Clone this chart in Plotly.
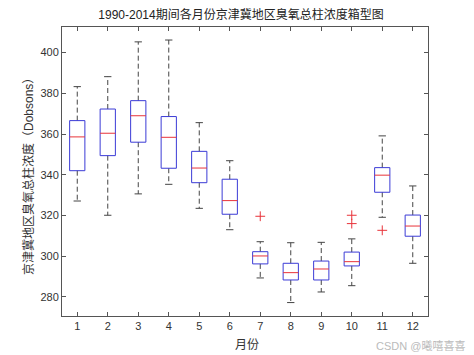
import plotly.graph_objects as go

months = [1, 2, 3, 4, 5, 6, 7, 8, 9, 10, 11, 12]
lower_whisker = [327.1, 320.1, 330.6, 335.3, 323.5, 313.0, 289.3, 277.2, 282.4, 285.5, 319.1, 296.5]
q1 = [342.0, 349.4, 356.0, 343.2, 336.1, 320.6, 296.2, 288.3, 288.3, 295.2, 331.4, 309.8]
median = [358.6, 360.4, 369.0, 358.4, 343.3, 327.3, 300.1, 291.9, 293.7, 297.3, 339.8, 314.8]
q3 = [366.6, 372.3, 376.4, 368.6, 351.5, 337.8, 302.2, 296.5, 297.6, 302.0, 343.5, 320.2]
upper_whisker = [383.3, 388.2, 405.3, 406.2, 365.6, 346.9, 307.1, 306.6, 306.8, 308.5, 359.1, 334.5]
outlier_month = [7, 10, 10, 11]
outlier_value = [319.6, 320.1, 316.0, 312.7]

title_text = "1990-2014期间各月份京津冀地区臭氧总柱浓度箱型图"
xlabel = "月份"
ylabel = "京津冀地区臭氧总柱浓度（Dobsons）"
y_ticks = [280, 300, 320, 340, 360, 380, 400]

BOX_HW = 0.25
CAP_HW = 0.12
BLUE = "#3b3bd6"
RED = "#e8333a"
DARK = "#333333"

box_x, box_y = [], []
med_x, med_y = [], []
wh_x, wh_y = [], []
cap_x, cap_y = [], []
for m, lw, a, md, b, uw in zip(months, lower_whisker, q1, median, q3, upper_whisker):
    box_x += [m - BOX_HW, m + BOX_HW, m + BOX_HW, m - BOX_HW, m - BOX_HW, None]
    box_y += [a, a, b, b, a, None]
    med_x += [m - BOX_HW, m + BOX_HW, None]
    med_y += [md, md, None]
    wh_x += [m, m, None, m, m, None]
    wh_y += [b, uw, None, a, lw, None]
    cap_x += [m - CAP_HW, m + CAP_HW, None, m - CAP_HW, m + CAP_HW, None]
    cap_y += [uw, uw, None, lw, lw, None]

fig = go.Figure()
fig.add_trace(go.Scatter(x=wh_x, y=wh_y, mode="lines",
                         line=dict(color="#444444", width=1, dash="5px,3px"), hoverinfo="skip"))
fig.add_trace(go.Scatter(x=cap_x, y=cap_y, mode="lines",
                         line=dict(color="#444444", width=1), hoverinfo="skip"))
fig.add_trace(go.Scatter(x=box_x, y=box_y, mode="lines",
                         line=dict(color=BLUE, width=1), hoverinfo="skip"))
fig.add_trace(go.Scatter(x=med_x, y=med_y, mode="lines",
                         line=dict(color=RED, width=1), hoverinfo="skip"))
fig.add_trace(go.Scatter(x=outlier_month, y=outlier_value, mode="markers",
                         marker=dict(symbol="cross-thin-open", size=7,
                                     line=dict(color=RED, width=1), color=RED)))

# page body has an 8px margin, so the figure is 8px smaller and margins shifted
W, H = 466, 347
L, R, T, B = 54, 46, 19, 39
PW, PH = W - L - R, H - T - B
OFF = 8

def px(xpage):
    return (xpage - OFF - L) / PW

def py(ypage):
    return (H - B - (ypage - OFF)) / PH

font_fam = "Liberation Sans, Arial, Noto Sans CJK SC"
fig.update_layout(
    width=W, height=H,
    margin=dict(l=L, r=R, t=T, b=B),
    paper_bgcolor="white", plot_bgcolor="white",
    showlegend=False,
    font=dict(family=font_fam, size=11, color=DARK),
    title=dict(text=title_text, x=0.5, xanchor="center", y=1 - (15 - OFF) / H, yanchor="middle",
               font=dict(size=12, color="#222222", family=font_fam)),
)
fig.update_xaxes(range=[0.5, 12.5], tickvals=months, ticktext=[str(m) for m in months],
                 showgrid=False, zeroline=False, showline=True, linecolor="#555555", linewidth=1,
                 mirror="ticks", ticks="inside", ticklen=4, tickcolor="#555555",
                 tickfont=dict(size=11, color=DARK))
fig.update_yaxes(range=[270.6, 412.6], tickvals=y_ticks,
                 showgrid=False, zeroline=False, showline=True, linecolor="#555555", linewidth=1,
                 mirror="ticks", ticks="inside", ticklen=4, tickcolor="#555555",
                 tickfont=dict(size=11, color=DARK))
fig.add_annotation(text=xlabel, xref="paper", yref="paper", x=px(246.7), y=py(345),
                   showarrow=False, xanchor="center", yanchor="middle",
                   font=dict(size=12, color=DARK, family=font_fam))
fig.add_annotation(text=ylabel, xref="paper", yref="paper", x=px(28), y=py(174),
                   showarrow=False, textangle=-90, xanchor="center", yanchor="middle",
                   font=dict(size=12, color=DARK, family=font_fam))
fig.add_annotation(text="CSDN @曦嘻喜喜", xref="paper", yref="paper", x=px(467),
                   y=py(345), showarrow=False, xanchor="right", yanchor="middle",
                   font=dict(size=11, color="#bbbbbb", family=font_fam))

fig.write_html("out.html")
